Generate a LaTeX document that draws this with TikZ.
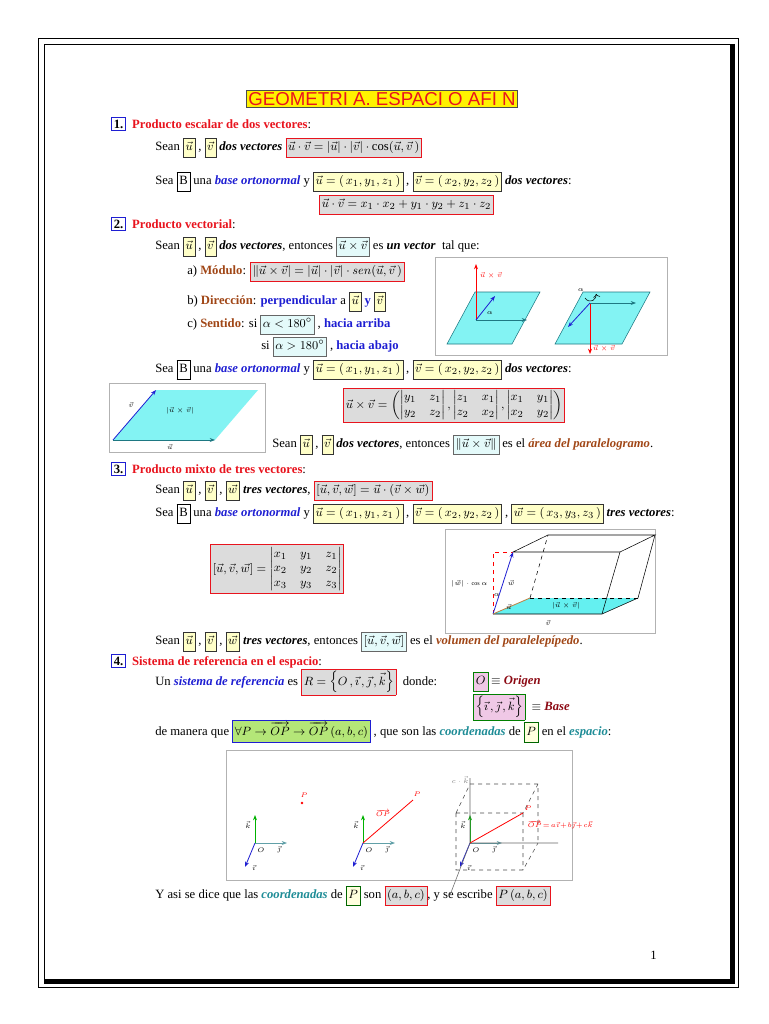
\documentclass[tikz,border=0pt]{standalone}
\usepackage{amsmath}
\usepackage{fontspec}
\setmainfont{Liberation Serif}
\newfontfamily\titlefont{Liberation Sans}
\usetikzlibrary{positioning}
\usetikzlibrary{calc}
\usetikzlibrary{arrows.meta}

\definecolor{boxyellow}{HTML}{FFFFC8}
\definecolor{boxgray}{HTML}{DCDCDC}
\definecolor{boxcyan}{HTML}{E4FAFA}
\definecolor{boxgreen}{HTML}{B4E678}
\definecolor{boxpink}{HTML}{F0C8E6}
\definecolor{secred}{HTML}{E8141E}
\definecolor{brownish}{HTML}{A04616}
\definecolor{ortblue}{HTML}{1E1ED2}
\definecolor{tealish}{HTML}{1E8C96}
\definecolor{darkred}{HTML}{8C0A14}
\definecolor{planecyan}{HTML}{64F0F0}
\definecolor{uteal}{HTML}{1E7882}

\setlength{\fboxsep}{1.5pt}
\newcommand{\yb}[1]{\fcolorbox{black!80}{boxyellow}{\strut#1}}
\newcommand{\rb}[1]{\fcolorbox{secred}{boxgray}{\strut#1}}
\newcommand{\cb}[1]{\fcolorbox{black!60}{boxcyan}{\strut#1}}
\newcommand{\bb}[1]{\fcolorbox{black}{white}{\strut#1}}
\newcommand{\secnum}[1]{\fcolorbox{ortblue}{white}{\textbf{#1}}}
\newcommand{\dv}{\textbf{\textit{dos vectores}}}
\newcommand{\tv}{\textbf{\textit{tres vectores}}}
\newcommand{\bon}{\textcolor{ortblue}{\textbf{\textit{base ortonormal}}}}
\newcommand{\uvw}{\left[\vec u,\vec v,\vec w\right]}

\begin{document}
\begin{tikzpicture}[x=0.75pt,y=-0.75pt,
    txt/.style={anchor=west,inner sep=0pt,font=\fontsize{9.5}{11}\selectfont},
    lbl/.style={font=\fontsize{4.5}{5}\selectfont,inner sep=1pt},
    fig/.style={draw=black!30,fill=white},
    vec/.style={-{Stealth[length=4pt]},semithick}]
\useasboundingbox (0,0) rectangle (768,1024);
% page frame
\draw[thin] (38,38) rectangle (738,987);
\draw[semithick] (44,44) rectangle (730,979);
\draw[line width=3pt] (733,44) -- (733,982) -- (44,982);

% title
\node[fill=yellow,draw=black!70,inner sep=1.5pt,text=secred,font=\titlefont\fontsize{14}{15}\selectfont] (title) at (382,99) {GEOMETRI A. ESPACI O AFI N};

% 1
\node[txt] (s1) at (111,124) {\secnum{1.}\ \ \textcolor{secred}{\textbf{Producto escalar de dos vectores}}:};
\node[txt] (l11) at (155,148) {Sean \yb{$\vec u$} , \yb{$\vec v$} \dv\ \rb{$\vec u\cdot\vec v=\left|\vec u\right|\cdot\left|\vec v\right|\cdot\cos(\vec u,\vec v\,)$}};
\node[txt] (l12) at (155,182) {Sea \bb{B} una \bon\ y \yb{$\vec u=(\,x_1,y_1,z_1\,)$} , \yb{$\vec v=(\,x_2,y_2,z_2\,)$} \dv:};
\node[txt] (l13) at (319,205) {\rb{$\vec u\cdot\vec v=x_1\cdot x_2+y_1\cdot y_2+z_1\cdot z_2$}};

% 2
\node[txt] (s2) at (111,224) {\secnum{2.}\ \ \textcolor{secred}{\textbf{Producto vectorial}}:};
\node[txt] (l21) at (155,247) {Sean \yb{$\vec u$} , \yb{$\vec v$} \textbf{\textit{dos vectores}}, entonces \cb{$\vec u\times\vec v$} es \textbf{\textit{un vector}} \ tal que:};
\node[txt] (l22) at (187,272) {a) \textcolor{brownish}{\textbf{Módulo}}: \rb{$\left\|\vec u\times\vec v\right|=\left|\vec u\right|\cdot\left|\vec v\right|\cdot sen(\vec u,\vec v\,)$}};
\node[txt] (l23) at (187,302) {b) \textcolor{brownish}{\textbf{Dirección}}: \textcolor{ortblue}{\textbf{perpendicular}} a \yb{$\vec u$} \textcolor{ortblue}{\textbf{y}} \yb{$\vec v$}};
\node[txt] (l24) at (187,325) {c) \textcolor{brownish}{\textbf{Sentido}}: si \cb{$\alpha<180^\circ$} , \textcolor{ortblue}{\textbf{hacia arriba}}};
\node[txt] (l25) at (261,347) {si \cb{$\alpha>180^\circ$} , \textcolor{ortblue}{\textbf{hacia abajo}}};
\node[txt] (l26) at (155,370) {Sea \bb{B} una \bon\ y \yb{$\vec u=(\,x_1,y_1,z_1\,)$} , \yb{$\vec v=(\,x_2,y_2,z_2\,)$} \dv:};
\node[txt] (l27) at (343,405) {\rb{$\vec u\times\vec v=\left(\begin{vmatrix}y_1&z_1\\y_2&z_2\end{vmatrix},\begin{vmatrix}z_1&x_1\\z_2&x_2\end{vmatrix},\begin{vmatrix}x_1&y_1\\x_2&y_2\end{vmatrix}\right)$}};
\node[txt] (l28) at (272,445) {Sean \yb{$\vec u$} , \yb{$\vec v$} \dv, entonces \cb{$\left\|\vec u\times\vec v\right\|$} es el \textcolor{brownish}{\textbf{\textit{área del paralelogramo}}}.};

% figure: cross product
\draw[fig] (435,257) rectangle (667,355);
\fill[planecyan!80,draw=uteal] (447,344) -- (475,292) -- (540,292) -- (512,344) -- cycle;
\draw[vec,red] (476,320) -- (476,264);
\node[lbl,text=red] (uxv1) at (491,276) {$\vec u\times\vec v$};
\draw[vec,ortblue] (476,320) -- (495,296);
\draw[vec,uteal] (476,320) -- (527,320);
\node[lbl] (a1) at (490,313) {$\alpha$};
\fill[planecyan!80,draw=uteal] (555,344) -- (583,292) -- (650,292) -- (622,344) -- cycle;
\draw[vec,red] (590,303) -- (590,354);
\node[lbl,text=red] (uxv2) at (604,349) {$\vec u\times\vec v$};
\draw[vec,ortblue] (590,303) -- (568,327);
\draw[vec,uteal] (590,303) -- (636,303);
\draw[->] (585,298) arc (150:-10:6);
\node[lbl] (a2) at (581,290) {$\alpha$};

% figure: parallelogram
\draw[fig] (109,383) rectangle (265,452);
\fill[planecyan!80] (113,440) -- (156,390) -- (258,390) -- (215,440) -- cycle;
\draw[vec,ortblue] (113,440) -- (156,390);
\draw[vec,uteal] (113,440) -- (215,440);
\node[lbl] (pv) at (131,405) {$\vec v$};
\node[lbl] (pu) at (170,447) {$\vec u$};
\node[lbl] (pa) at (180,411) {$|\vec u\times\vec v|$};

% 3
\node[txt] (s3) at (111,469) {\secnum{3.}\ \ \textcolor{secred}{\textbf{Producto mixto de tres vectores}}:};
\node[txt] (l31) at (155,491) {Sean \yb{$\vec u$} , \yb{$\vec v$} , \yb{$\vec w$} \tv, \rb{$\uvw=\vec u\cdot\left(\vec v\times\vec w\right)$}};
\node[txt] (l32) at (155,514) {Sea \bb{B} una \bon\ y \yb{$\vec u=(\,x_1,y_1,z_1\,)$} , \yb{$\vec v=(\,x_2,y_2,z_2\,)$} , \yb{$\vec w=(\,x_3,y_3,z_3\,)$} \tv:};
\node[txt] (l33) at (210,569) {\rb{$\uvw=\begin{vmatrix}x_1&y_1&z_1\\x_2&y_2&z_2\\x_3&y_3&z_3\end{vmatrix}$}};
\node[txt] (l34) at (155,642) {Sean \yb{$\vec u$} , \yb{$\vec v$} , \yb{$\vec w$} \textbf{\textit{tres vectores}}, entonces \cb{$\uvw$} es el \textcolor{brownish}{\textbf{\textit{volumen del paralelepípedo}}}.};

% figure: parallelepiped
\draw[fig] (445,529) rectangle (655,633);
\fill[planecyan] (493,614) -- (530,598) -- (638,598) -- (602,614) -- cycle;
\draw[dashed] (530,598) -- (638,598);
\draw (493,614) -- (602,614) -- (638,598);
\draw (513,552) -- (620,552) -- (655,535) -- (548,535) -- cycle;
\draw (602,614) -- (620,552) (638,598) -- (655,535);
\draw[dashed] (530,598) -- (548,535);
\draw[red,dashed] (493,614) -- (493,552) -- (513,552);
\draw[vec,ortblue] (493,614) -- (513,552);
\draw[semithick,brown] (493,614) -- (530,598);
\node[lbl] (fw) at (511,583) {$\vec w$};
\node[lbl] (fu) at (509,607) {$\vec u$};
\node[lbl] (fv) at (548,623) {$\vec v$};
\node[lbl] (fa) at (497,595) {$\alpha$};
\node[lbl] (fuv) at (566,606) {$|\vec u\times\vec v|$};
\node[lbl,anchor=east] (fc) at (489,584) {$|\vec w|\cdot\cos\alpha$};

% 4
\node[txt] (s4) at (111,661) {\secnum{4.}\ \ \textcolor{secred}{\textbf{Sistema de referencia en el espacio}}:};
\node[txt] (l41) at (155,682) {Un \textcolor{ortblue}{\textit{\textbf{sistema de referencia}}} es \rb{$R=\left\{O\,,\vec\imath\,,\vec\jmath\,,\vec k\right\}$} \ donde:};
\node[txt] (l42) at (473,682) {\fcolorbox{green!50!black}{boxpink}{\strut$O$} $\equiv$ \textcolor{darkred}{\textbf{\textit{Origen}}}};
\node[txt] (l43) at (473,707) {\fcolorbox{green!50!black}{boxpink}{\strut$\left\{\vec\imath\,,\vec\jmath\,,\vec k\right\}$} \ $\equiv$ \textcolor{darkred}{\textbf{\textit{Base}}}};
\node[txt] (l44) at (155,731) {de manera que \fcolorbox{ortblue}{boxgreen}{\strut$\forall P\to\overrightarrow{OP}\to\overrightarrow{OP}\,(a,b,c)$} , que son las \textcolor{tealish}{\textbf{\textit{coordenadas}}} de \fcolorbox{green!40!black}{boxyellow!60!white}{\strut$P$} en el \textcolor{tealish}{\textbf{\textit{espacio}}}:};
\node[txt] (l45) at (155,896) {Y asi se dice que las \textcolor{tealish}{\textbf{\textit{coordenadas}}} de \fcolorbox{green!40!black}{boxyellow!60!white}{\strut$P$} son \rb{$(a,b,c)$}, y se escribe \rb{$P\,(a,b,c)$}};

% figure: reference systems
\draw[fig] (226,750) rectangle (572,880);
\foreach \ox/\nm in {255/a,363/b,470/c}{
  \coordinate (o\nm) at (\ox,843);
  \draw[vec,green!70!black] (o\nm) -- ++(0,-28);
  \draw[vec,uteal!70] (o\nm) -- ++(32,0);
  \draw[vec,ortblue] (o\nm) -- ++(-10,24);
  \node[lbl] at ($(o\nm)+(-7,-18)$) {$\vec k$};
  \node[lbl] at ($(o\nm)+(24,7)$) {$\vec\jmath$};
  \node[lbl] at ($(o\nm)+(-1,25)$) {$\vec\imath$};
  \node[lbl] at ($(o\nm)+(6,7)$) {$O$};
}
\fill[red] (302,803) circle (1pt);
\node[lbl,text=red] (p1) at (304,795) {$P$};
\draw[red,semithick] (ob) -- (413,800);
\node[lbl,text=red] (p2) at (417,794) {$P$};
\node[lbl,text=red] (op2) at (383,813) {$\overrightarrow{OP}$};
% third system box
\draw[black!60] (470,843) -- (470,778) (470,843) -- (558,843) (470,843) -- (450,895);
\draw[dashed,black!70] (470,784) -- (538,784) -- (538,843) (456,813) -- (523,813) -- (538,784)
  (456,813) -- (456,870) -- (523,870) -- (538,843) (523,813) -- (523,870) (456,813) -- (470,784);
\draw[red,semithick] (oc) -- (523,813);
\node[lbl,text=red] (p3) at (528,808) {$P$};
\node[lbl,text=red,anchor=west] (op3) at (526,825) {$\overrightarrow{OP}\!=\!a\vec\imath\!+\!b\vec\jmath\!+\!c\vec k$};
\node[lbl,text=black!50] (ck) at (460,780) {$c\cdot\vec k$};

\node[txt] (pg) at (650,955) {1};
\end{tikzpicture}
\end{document}
